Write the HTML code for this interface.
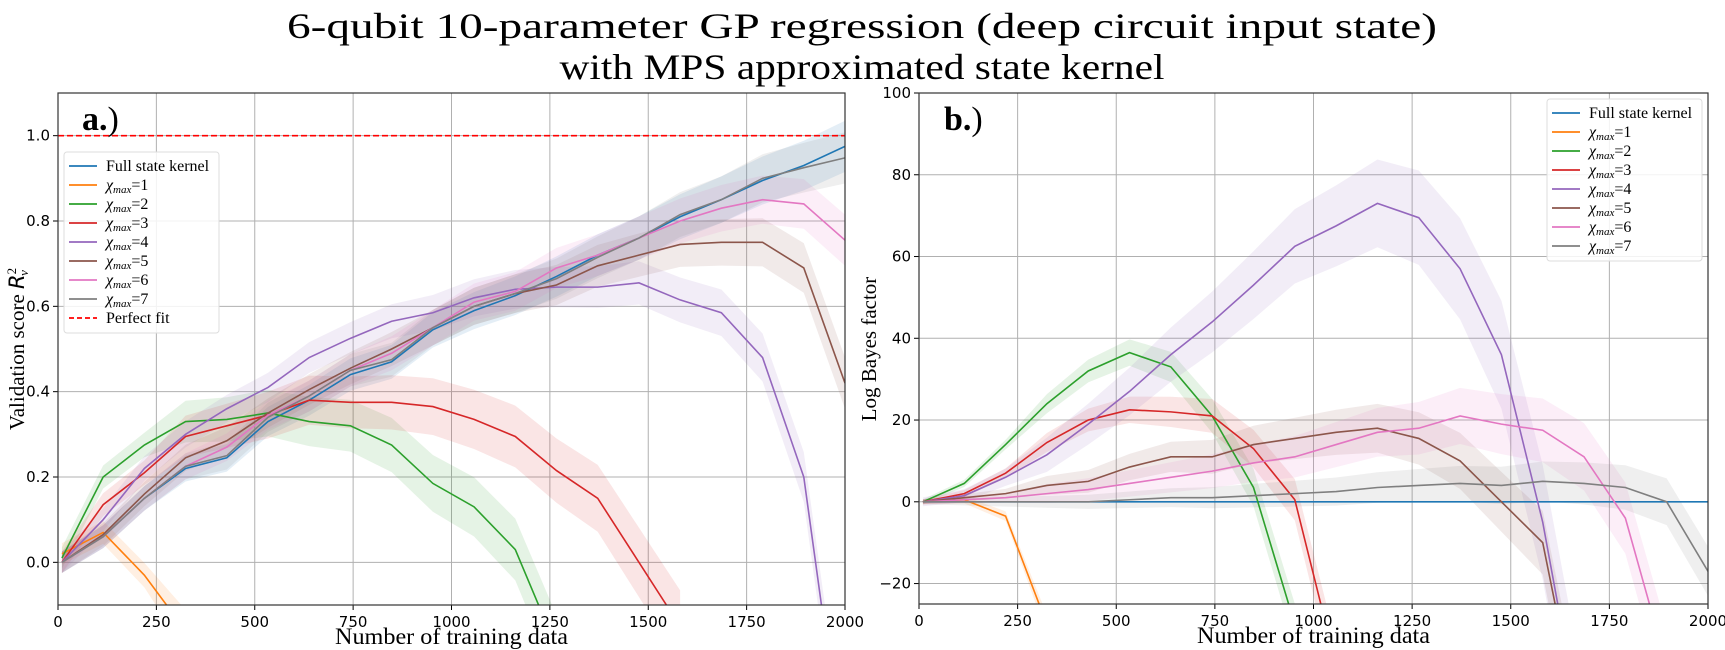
<!DOCTYPE html>
<html><head><meta charset="utf-8"><style>
html,body{margin:0;padding:0;background:#fff;overflow:hidden;width:1725px;height:650px;}
svg{display:block;}
svg text{font-family:"Liberation Serif","DejaVu Serif",serif;}
.tk{font-family:"DejaVu Sans","Liberation Sans",sans-serif;font-size:15px;fill:#000;}
</style></head><body>
<svg id="s" width="1725" height="650" xmlns="http://www.w3.org/2000/svg">
<rect width="1725" height="650" fill="#fff"/>
<text x="862" y="38" font-size="36" text-anchor="middle" textLength="1150" lengthAdjust="spacingAndGlyphs">6-qubit 10-parameter GP regression (deep circuit input state)</text>
<text x="862" y="79" font-size="36" text-anchor="middle" textLength="605" lengthAdjust="spacingAndGlyphs">with MPS approximated state kernel</text>
<g id="g"></g>
</svg>
<script>
var C={b:'#1f77b4',o:'#ff7f0e',g:'#2ca02c',r:'#d62728',p:'#9467bd',br:'#8c564b',pk:'#e377c2',gy:'#7f7f7f'};
var X=[];for(var k=0;k<20;k++)X.push(10+k*(1990/19));
var L={
b:[0,0.06,0.15,0.22,0.245,0.33,0.38,0.44,0.47,0.545,0.59,0.625,0.67,0.72,0.76,0.81,0.85,0.895,0.93,0.975],
o:[0.02,0.07,-0.03,-0.16],
g:[0.01,0.2,0.275,0.33,0.335,0.35,0.33,0.32,0.275,0.185,0.13,0.03,-0.2],
r:[0,0.135,0.21,0.295,0.32,0.345,0.38,0.375,0.375,0.365,0.335,0.295,0.215,0.15,0.0,-0.15],
p:[0,0.1,0.22,0.3,0.36,0.41,0.48,0.525,0.565,0.585,0.62,0.64,0.645,0.645,0.655,0.615,0.585,0.48,0.2,-0.5],
br:[0,0.065,0.16,0.245,0.285,0.35,0.405,0.455,0.5,0.55,0.6,0.63,0.65,0.695,0.72,0.745,0.75,0.75,0.69,0.42],
pk:[0,0.06,0.15,0.225,0.27,0.345,0.39,0.45,0.49,0.55,0.61,0.635,0.69,0.72,0.76,0.8,0.83,0.85,0.84,0.755],
gy:[0,0.06,0.15,0.225,0.25,0.34,0.39,0.45,0.475,0.55,0.6,0.63,0.665,0.715,0.76,0.815,0.85,0.9,0.925,0.948]};
var R={
b:[0,0,0,0,0,0,0,0,0,0,0,0,0,0,0,0,0,0,0,0],
o:[0,0.5,-3.5,-30],
g:[0,4.5,14,24,32,36.5,33,21,3.5,-30],
r:[0,2,7,14.5,20,22.5,22,21,13,0.5,-40],
p:[0,1.5,6,11.5,19,27,36,44,53,62.5,67.5,73,69.5,57,36,-5,-60],
br:[0,1,2,4,5,8.5,11,11,14,15.5,17,18,15.5,10,0,-10,-60],
pk:[0,0.5,1,2,3,4.5,6,7.5,9.5,11,14,17,18,21,19,17.5,11,-4,-40],
gy:[0,0,0,0,0,0.5,1,1,1.5,2,2.5,3.5,4,4.5,4,5,4.5,3.5,0,-17]};
var out='';
function panel(x0,x1,y0,y1,ymin,ymax,data,hw0,hw1,yt,fmt,id){
 var sx=function(v){return x0+(v)/2000*(x1-x0)};
 var sy=function(v){return y1-(v-ymin)/(ymax-ymin)*(y1-y0)};
 out+='<defs><clipPath id="c'+id+'"><rect x="'+x0+'" y="'+y0+'" width="'+(x1-x0)+'" height="'+(y1-y0)+'"/></clipPath></defs>';
 [0,250,500,750,1000,1250,1500,1750,2000].forEach(function(t){var x=sx(t);
  out+='<line x1="'+x+'" y1="'+y0+'" x2="'+x+'" y2="'+y1+'" stroke="#b0b0b0" stroke-width="1"/>';
  out+='<line x1="'+x+'" y1="'+y1+'" x2="'+x+'" y2="'+(y1+5)+'" stroke="#000"/>';
  out+='<text class="tk" x="'+x+'" y="'+(y1+22)+'" text-anchor="middle">'+t+'</text>';});
 yt.forEach(function(t){var y=sy(t);
  out+='<line x1="'+x0+'" y1="'+y+'" x2="'+x1+'" y2="'+y+'" stroke="#b0b0b0" stroke-width="1"/>';
  out+='<line x1="'+(x0-5)+'" y1="'+y+'" x2="'+x0+'" y2="'+y+'" stroke="#000"/>';
  out+='<text class="tk" x="'+(x0-8)+'" y="'+(y+5)+'" text-anchor="end">'+fmt(t)+'</text>';});
 out+='<g clip-path="url(#c'+id+')">';
 var keys=['b','o','g','r','p','br','pk','gy'];
 keys.forEach(function(k){var d=data[k];var up=[],dn=[];
  if(id==2&&k=='b')return;
  d.forEach(function(v,i){var h=hw0+(hw1-hw0)*i/19;if(k=='p'&&id==2)h*=1.8;if(d.length<20&&i>2)h*=1.6;
   up.push(sx(X[i])+','+sy(v+h));dn.unshift(sx(X[i])+','+sy(v-h));});
  out+='<polygon points="'+up.concat(dn).join(' ')+'" fill="'+C[k]+'" fill-opacity="0.12"/>';});
 keys.forEach(function(k){var d=data[k];var p=d.map(function(v,i){return sx(X[i])+','+sy(v)}).join(' ');
  out+='<polyline points="'+p+'" fill="none" stroke="'+C[k]+'" stroke-width="1.6"/>';});
 if(id==1)out+='<line x1="'+x0+'" y1="'+sy(1)+'" x2="'+x1+'" y2="'+sy(1)+'" stroke="#ff0000" stroke-width="1.6" stroke-dasharray="6,3"/>';
 out+='</g><rect x="'+x0+'" y="'+y0+'" width="'+(x1-x0)+'" height="'+(y1-y0)+'" fill="none" stroke="#333" stroke-width="1.2"/>';
 out+='<text x="'+((x0+x1)/2)+'" y="'+(y1+39)+'" font-size="23" text-anchor="middle" textLength="233" lengthAdjust="spacingAndGlyphs">Number of training data</text>';
}
function legend(x,y,w,ents){var h=ents.length*19+10;
 out+='<rect x="'+x+'" y="'+y+'" width="'+w+'" height="'+h+'" rx="3" fill="#fff" fill-opacity="0.85" stroke="#ddd"/>';
 ents.forEach(function(e,i){var yy=y+14+i*19;
  out+='<line x1="'+(x+5)+'" y1="'+yy+'" x2="'+(x+33)+'" y2="'+yy+'" stroke="'+e[0]+'" stroke-width="1.8"'+(e[2]?' stroke-dasharray="5,3"':'')+'/>';
  out+='<text x="'+(x+42)+'" y="'+(yy+5)+'" font-size="16">'+e[1]+'</text>';});}
function chi(n){return '<tspan font-style="italic">χ</tspan><tspan font-size="11" dy="3" font-style="italic">max</tspan><tspan dy="-3">='+n+'</tspan>';}
panel(58,845,93,605,-0.1,1.1,L,0.025,0.06,[0,0.2,0.4,0.6,0.8,1.0],function(t){return t.toFixed(1)},1);
panel(919,1708,93,604,-25,100,R,0.6,6,[-20,0,20,40,60,80,100],function(t){return t==0?'0':(t<0?'−'+(-t):t)},2);
var ents=[[C.b,'Full state kernel']];['o','g','r','p','br','pk','gy'].forEach(function(k,i){ents.push([C[k],chi(i+1)])});
legend(64,152,155,ents.concat([['#ff0000','Perfect fit',1]]));
legend(1547,99,155,ents);
out+='<text x="82" y="130" font-size="34" font-weight="bold">a.<tspan font-weight="normal">)</tspan></text>';
out+='<text x="944" y="130" font-size="34" font-weight="bold">b.<tspan font-weight="normal">)</tspan></text>';
out+='<text transform="translate(24,349) rotate(-90)" font-size="21" text-anchor="middle">Validation score <tspan font-style="italic" font-family="DejaVu Sans">R</tspan><tspan font-size="13" dy="-8">2</tspan><tspan font-size="13" dy="12" dx="-8" font-style="italic">v</tspan></text>';
out+='<text transform="translate(876,349) rotate(-90)" font-size="21" text-anchor="middle">Log Bayes factor</text>';
document.getElementById('g').innerHTML=out;
</script>
</body></html>
